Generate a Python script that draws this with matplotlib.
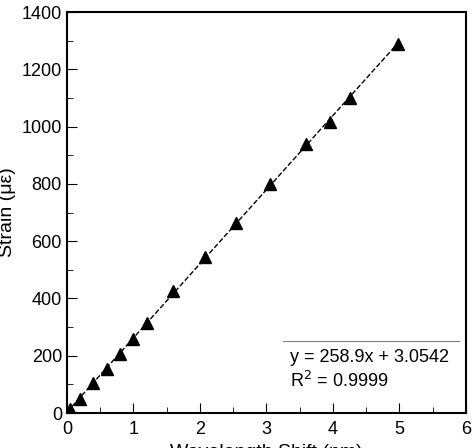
import matplotlib.pyplot as plt
import numpy as np

# data
shift = [0.05, 0.2, 0.4, 0.6, 0.8, 1.0, 1.2, 1.6, 2.08, 2.55, 3.05, 3.6, 3.95, 4.25, 4.98]
strain = [15, 50, 105, 155, 205, 260, 315, 425, 545, 665, 800, 940, 1015, 1100, 1290]
slope, intercept = 258.9, 3.0542

plt.rcParams['font.family'] = 'Liberation Sans'
fig = plt.figure(figsize=(4.74, 4.48), dpi=100)
ax = fig.add_axes([0.141, 0.078, 0.842, 0.895])

xf = np.array([0, 5.0])
ax.plot(xf, slope*xf + intercept, 'k--', lw=1)
ax.plot(shift, strain, 'k^', ms=8)

ax.set_xlim(0, 6)
ax.set_ylim(0, 1400)
ax.set_xticks(range(0, 7))
ax.set_yticks(range(0, 1401, 200))
ax.set_xticks(np.arange(0, 6.01, 0.5), minor=True)
ax.set_yticks(range(0, 1401, 100), minor=True)
ax.tick_params(direction='in', which='both', labelsize=13, top=False, right=False)
ax.tick_params(which='major', length=7)
ax.tick_params(which='minor', length=4)
ax.tick_params(axis='x', pad=6)
for s in ax.spines.values():
    s.set_linewidth(1.5)
ax.set_ylabel('Strain (\u03bc\u03b5)', fontsize=14)
# label sits partly below the figure edge, as in the reference
ax.set_xlabel('Wavelength Shift (nm)', fontsize=14, labelpad=4)

ax.plot([3.25, 5.9], [250, 250], color='gray', lw=0.8)
ax.text(3.35, 195, 'y = 258.9x + 3.0542', fontsize=13, va='center')
ax.text(3.35, 112, 'R$^2$ = 0.9999', fontsize=13, va='center')

fig.savefig('out.png', dpi=100)
